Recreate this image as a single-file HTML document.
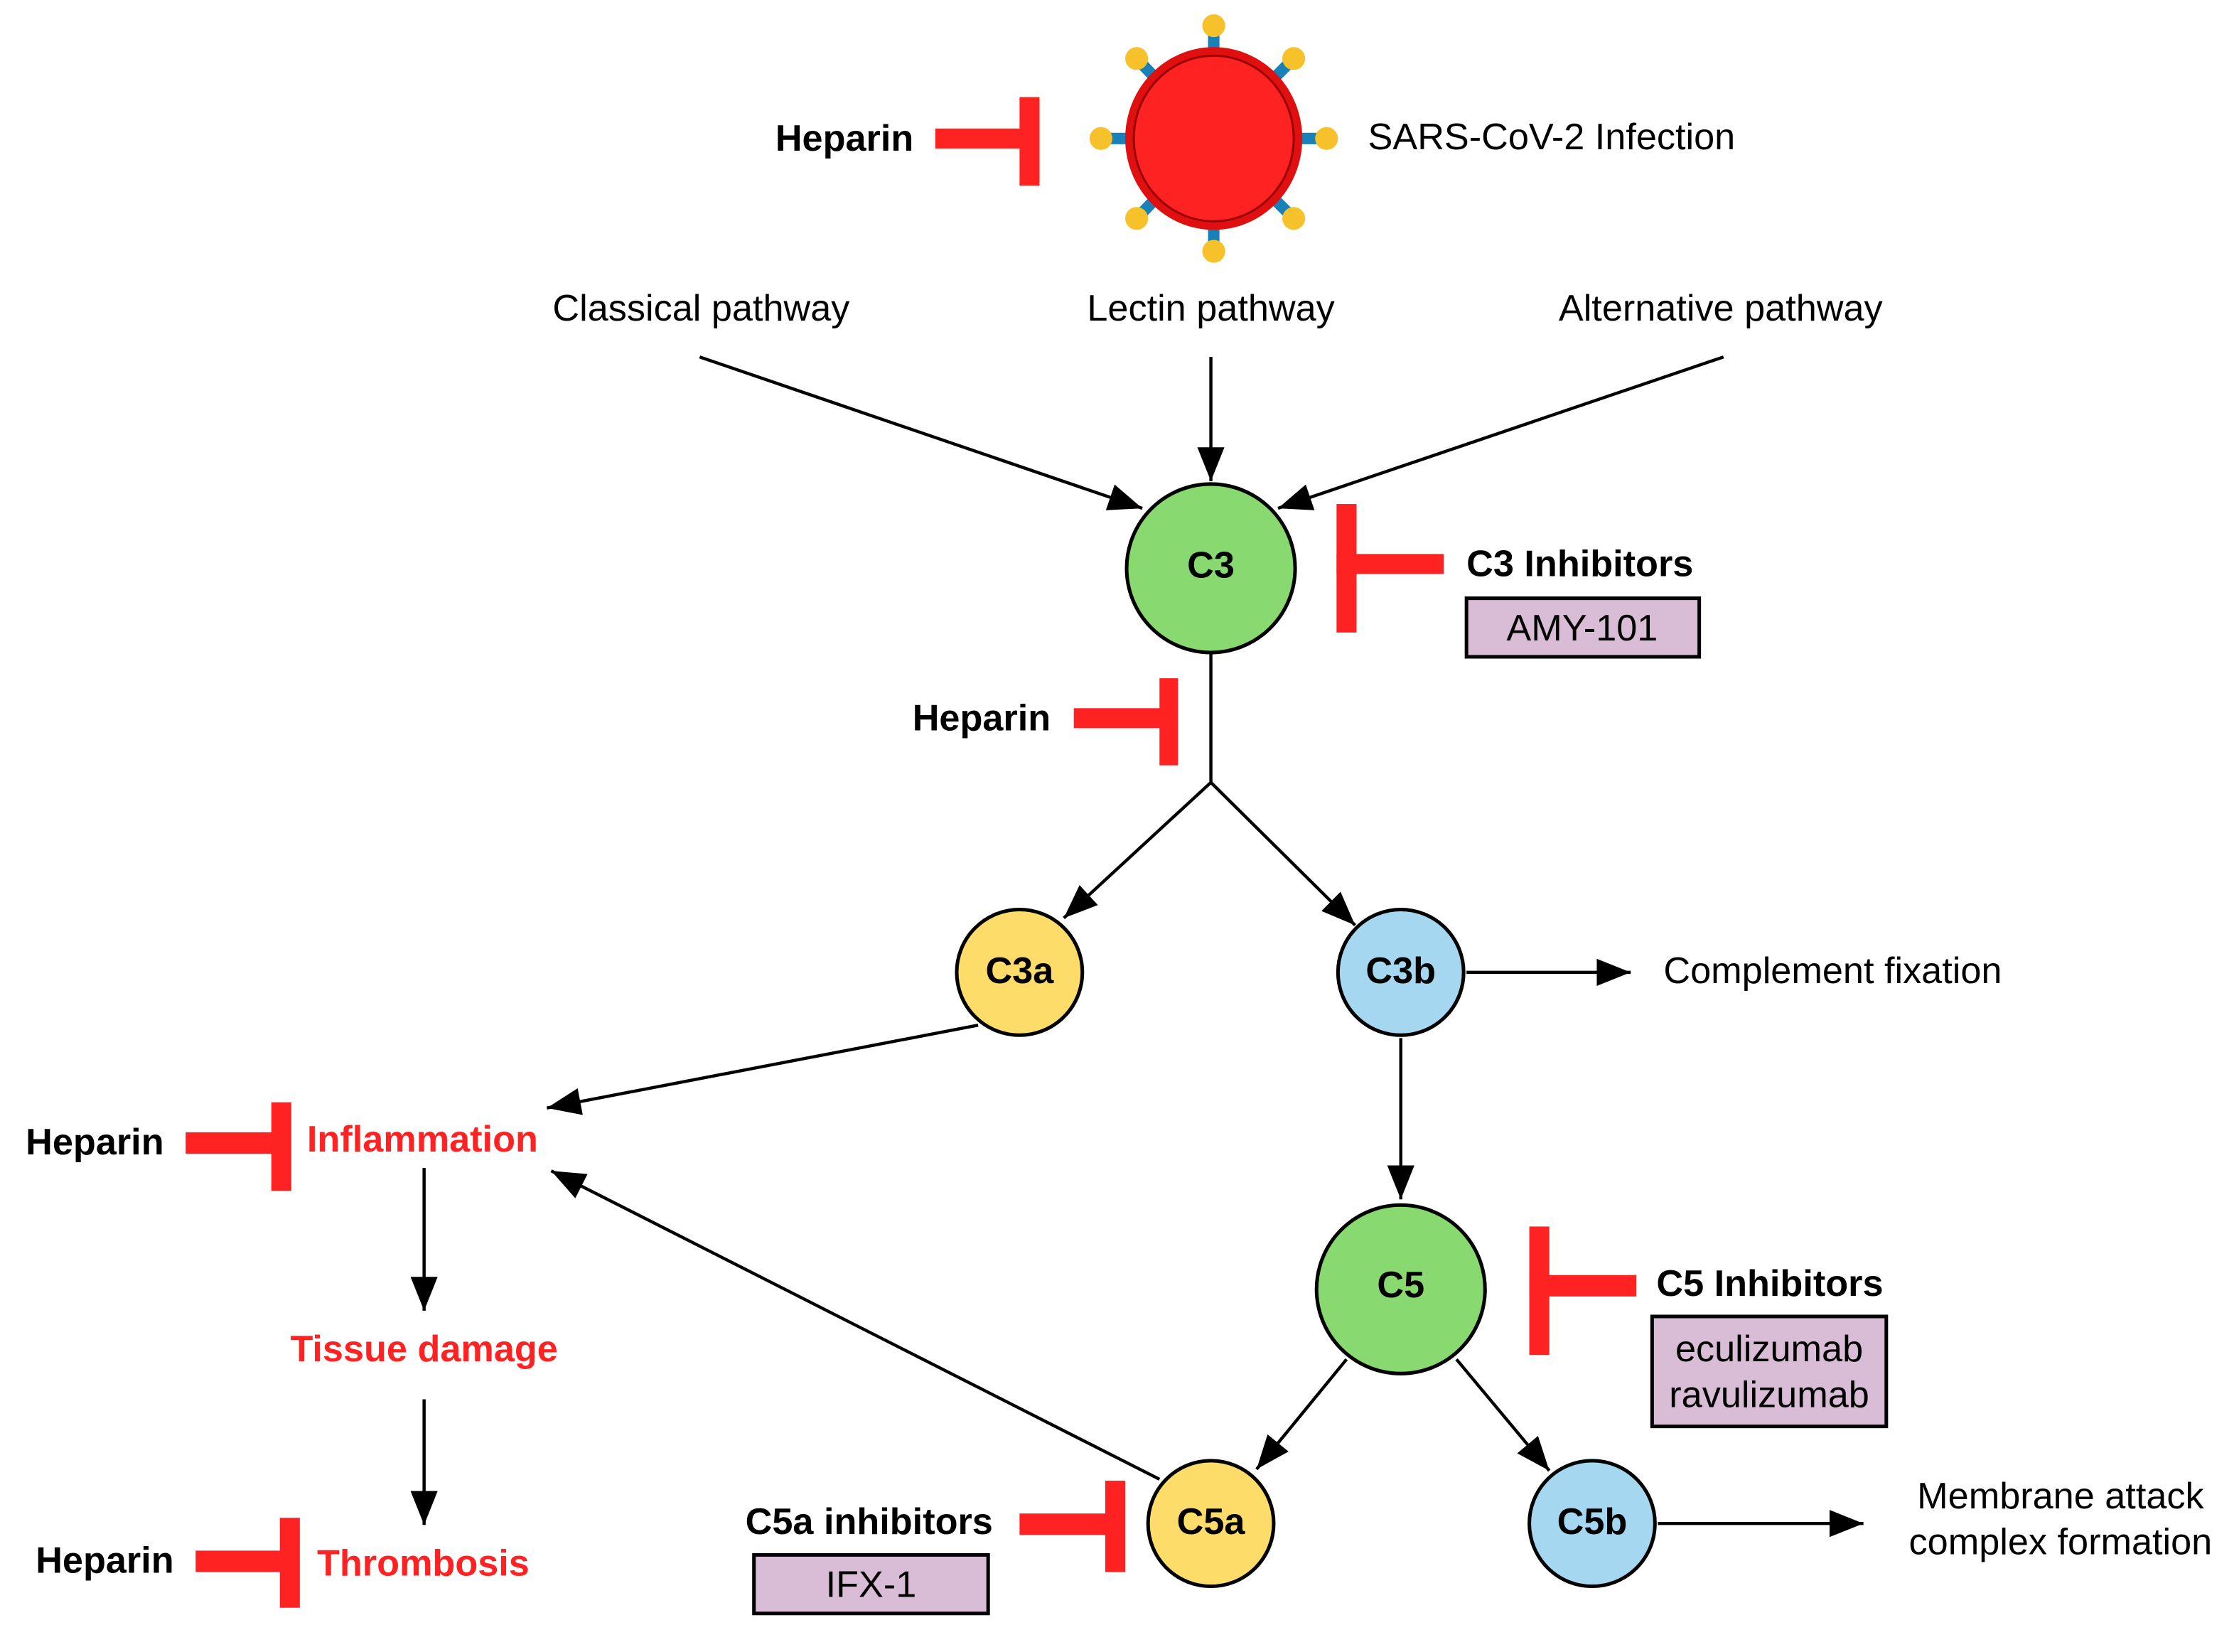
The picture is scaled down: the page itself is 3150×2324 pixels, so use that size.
<!DOCTYPE html>
<html><head><meta charset="utf-8"><style>
html,body{margin:0;padding:0;background:#fff;}
svg{display:block;}
text{font-family:"Liberation Sans",Arial,sans-serif;font-size:26px;dominant-baseline:central;}
.b{font-weight:bold;}
.r{fill:#ff2222;font-weight:bold;}
</style></head><body>
<svg width="3150" height="2324" viewBox="0 0 1568 1157" preserveAspectRatio="none" xmlns="http://www.w3.org/2000/svg">
<defs>
<marker id="ah" viewBox="0 0 20 16" refX="20" refY="8" markerWidth="24" markerHeight="19" orient="auto" markerUnits="userSpaceOnUse"><path d="M0,0 L20,8 L0,16 Z" fill="#000"/></marker>
</defs>
<rect width="1568" height="1157" fill="#fff"/>
<g stroke="#1a80b8" stroke-width="8">
<line x1="850" y1="97" x2="850" y2="20"/><line x1="850" y1="97" x2="850" y2="174"/>
<line x1="850" y1="97" x2="773" y2="97"/><line x1="850" y1="97" x2="927" y2="97"/>
<line x1="850" y1="97" x2="797" y2="42"/><line x1="850" y1="97" x2="905" y2="42"/>
<line x1="850" y1="97" x2="797" y2="152"/><line x1="850" y1="97" x2="905" y2="152"/>
</g>
<g fill="#f6c12a">
<circle cx="850" cy="18" r="8"/><circle cx="850" cy="176" r="8"/>
<circle cx="771" cy="97" r="8"/><circle cx="929" cy="97" r="8"/>
<circle cx="796" cy="41" r="8"/><circle cx="906" cy="41" r="8"/>
<circle cx="796" cy="153" r="8"/><circle cx="906" cy="153" r="8"/>
</g>
<ellipse cx="850" cy="97" rx="62" ry="64" fill="#e01010"/>
<ellipse cx="850" cy="97" rx="56" ry="58" fill="#ff2222" stroke="#900" stroke-width="1.5"/>
<text x="543" y="97" class="b">Heparin</text>
<rect x="655" y="90" width="70" height="14" fill="#ff2222"/><rect x="714" y="68" width="14" height="62" fill="#ff2222"/>
<text x="958" y="96">SARS-CoV-2 Infection</text>
<text x="491" y="216" text-anchor="middle">Classical pathway</text>
<text x="848" y="216" text-anchor="middle">Lectin pathway</text>
<text x="1205" y="216" text-anchor="middle">Alternative pathway</text>
<g stroke="#000" stroke-width="2.2" fill="none">
<line x1="490" y1="250" x2="800" y2="356" marker-end="url(#ah)"/>
<line x1="848" y1="250" x2="848" y2="337" marker-end="url(#ah)"/>
<line x1="1207" y1="250" x2="895" y2="356" marker-end="url(#ah)"/>
<line x1="848" y1="458" x2="848" y2="548"/>
<line x1="848" y1="548" x2="745" y2="643" marker-end="url(#ah)"/>
<line x1="848" y1="548" x2="949" y2="648" marker-end="url(#ah)"/>
<line x1="1027" y1="681" x2="1142" y2="681" marker-end="url(#ah)"/>
<line x1="685" y1="718" x2="383" y2="776" marker-end="url(#ah)"/>
<line x1="297" y1="818" x2="297" y2="918" marker-end="url(#ah)"/>
<line x1="297" y1="980" x2="297" y2="1068" marker-end="url(#ah)"/>
<line x1="981" y1="727" x2="981" y2="840" marker-end="url(#ah)"/>
<line x1="943" y1="952" x2="880" y2="1029" marker-end="url(#ah)"/>
<line x1="1020" y1="952" x2="1085" y2="1030" marker-end="url(#ah)"/>
<line x1="1161" y1="1067" x2="1305" y2="1067" marker-end="url(#ah)"/>
<line x1="812" y1="1036" x2="386" y2="820" marker-end="url(#ah)"/>
</g>
<circle cx="848" cy="398" r="59" fill="#88d970" stroke="#000" stroke-width="2.5"/>
<text x="848" y="396" text-anchor="middle" class="b">C3</text>
<rect x="936" y="353" width="14" height="90" fill="#ff2222"/><rect x="936" y="388" width="75" height="14" fill="#ff2222"/>
<text x="1027" y="395" class="b">C3 Inhibitors</text>
<rect x="1027" y="419" width="163" height="41" fill="#d9bcd6" stroke="#000" stroke-width="2.5"/>
<text x="1108" y="440" text-anchor="middle">AMY-101</text>
<text x="639" y="503" class="b">Heparin</text>
<rect x="752" y="496" width="70" height="14" fill="#ff2222"/><rect x="812" y="475" width="13" height="61" fill="#ff2222"/>
<circle cx="714" cy="681" r="44" fill="#fddc6a" stroke="#000" stroke-width="2.5"/>
<text x="714" y="680" text-anchor="middle" class="b">C3a</text>
<circle cx="981" cy="681" r="44" fill="#a5d8f0" stroke="#000" stroke-width="2.5"/>
<text x="981" y="680" text-anchor="middle" class="b">C3b</text>
<text x="1165" y="680">Complement fixation</text>
<text x="18" y="800" class="b">Heparin</text>
<rect x="130" y="793" width="70" height="15" fill="#ff2222"/><rect x="190" y="772" width="14" height="62" fill="#ff2222"/>
<text x="215" y="798" class="r">Inflammation</text>
<text x="297" y="945" text-anchor="middle" class="r">Tissue damage</text>
<text x="25" y="1093" class="b">Heparin</text>
<rect x="137" y="1086" width="70" height="15" fill="#ff2222"/><rect x="196" y="1063" width="14" height="63" fill="#ff2222"/>
<text x="222" y="1095" class="r">Thrombosis</text>
<circle cx="981" cy="903" r="59" fill="#88d970" stroke="#000" stroke-width="2.5"/>
<text x="981" y="900" text-anchor="middle" class="b">C5</text>
<rect x="1071" y="859" width="14" height="90" fill="#ff2222"/><rect x="1071" y="893" width="75" height="15" fill="#ff2222"/>
<text x="1160" y="899" class="b">C5 Inhibitors</text>
<rect x="1157" y="922" width="164" height="77" fill="#d9bcd6" stroke="#000" stroke-width="2.5"/>
<text x="1239" y="945" text-anchor="middle">eculizumab</text>
<text x="1239" y="977" text-anchor="middle">ravulizumab</text>
<circle cx="848" cy="1067" r="44" fill="#fddc6a" stroke="#000" stroke-width="2.5"/>
<text x="848" y="1066" text-anchor="middle" class="b">C5a</text>
<circle cx="1115" cy="1067" r="44" fill="#a5d8f0" stroke="#000" stroke-width="2.5"/>
<text x="1115" y="1066" text-anchor="middle" class="b">C5b</text>
<text x="1443" y="1048" text-anchor="middle">Membrane attack</text>
<text x="1443" y="1080" text-anchor="middle">complex formation</text>
<text x="522" y="1066" class="b">C5a inhibitors</text>
<rect x="714" y="1060" width="71" height="15" fill="#ff2222"/><rect x="774" y="1037" width="14" height="64" fill="#ff2222"/>
<rect x="528" y="1089" width="164" height="41" fill="#d9bcd6" stroke="#000" stroke-width="2.5"/>
<text x="610" y="1110" text-anchor="middle">IFX-1</text>
</svg>
</body></html>
